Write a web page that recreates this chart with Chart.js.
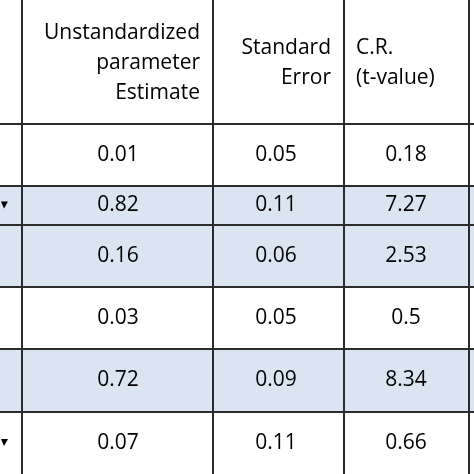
<!DOCTYPE html>
<html><head><meta charset="utf-8">
<script src="https://cdn.jsdelivr.net/npm/chart.js@4"></script>
<style>html,body{margin:0;padding:0;background:#fff}#w{width:474px;height:474px}</style>
</head><body><div id="w"><canvas id="c"></canvas></div>
<script>
const headers = [["Unstandardized","parameter","Estimate"],["Standard","Error"],["C.R.","(t-value)"]];
const estimates = [0.01,0.82,0.16,0.03,0.72,0.07];
const stdErrors = ["0.05","0.11","0.06","0.05","0.09","0.11"];
const crValues = ["0.18","7.27","2.53","0.5","8.34","0.66"];
const shaded = [false,true,true,false,true,false];
const arrows = [false,true,false,false,false,true];
// table grid layout (in scale units)
const colEdges = [22,213,344,469];
const rowEdges = [-10,124,186,225,287,349,412,484];

const tablePlugin = {
  id:'table',
  afterDraw(chart){
    const {ctx, scales:{x,y}} = chart;
    const X=v=>x.getPixelForValue(v), Y=v=>y.getPixelForValue(v);
    ctx.save();
    for(let r=0;r<6;r++){ if(!shaded[r]) continue;
      ctx.fillStyle='#dbe5f1';
      ctx.fillRect(0,Y(rowEdges[r+1]),X(474),Y(rowEdges[r+2])-Y(rowEdges[r+1]));
    }
    ctx.strokeStyle='#2b2b2b'; ctx.lineWidth=2;
    colEdges.forEach(c=>{ctx.beginPath();ctx.moveTo(X(c),0);ctx.lineTo(X(c),Y(474));ctx.stroke();});
    rowEdges.slice(1,-1).forEach(r=>{ctx.beginPath();ctx.moveTo(0,Y(r));ctx.lineTo(X(474),Y(r));ctx.stroke();});
    ctx.fillStyle='#000'; ctx.font='21px "Open Sans", sans-serif'; ctx.textBaseline='middle';
    ctx.textAlign='right';
    headers[0].forEach((t,i)=>ctx.fillText(t,X(200),Y(33+i*30)));
    headers[1].forEach((t,i)=>ctx.fillText(t,X(331),Y(48+i*30)));
    ctx.textAlign='left';
    headers[2].forEach((t,i)=>ctx.fillText(t,X(356),Y(48+i*30)));
    ctx.textAlign='center';
    const cx=[118,276,406];
    for(let r=0;r<6;r++){
      const yc=Y((rowEdges[r+1]+rowEdges[r+2])/2 + (r==5?-5:0));
      ctx.fillText(estimates[r].toFixed(2),X(cx[0]),yc);
      ctx.fillText(stdErrors[r],X(cx[1]),yc);
      ctx.fillText(crValues[r],X(cx[2]),yc);
      if(arrows[r]){ctx.beginPath();ctx.moveTo(X(1),yc-4);ctx.lineTo(X(8),yc-4);ctx.lineTo(X(4),yc+3);ctx.closePath();ctx.fill();}
    }
    ctx.restore();
  }
};
new Chart(document.getElementById('c'),{
  type:'scatter',
  data:{datasets:[{data:[]}]},
  options:{responsive:true,maintainAspectRatio:false,animation:false,
    layout:{padding:0},
    plugins:{legend:{display:false},tooltip:{enabled:false}},
    scales:{x:{type:'linear',min:0,max:474,display:false},
            y:{type:'linear',min:0,max:474,reverse:true,display:false}}},
  plugins:[tablePlugin]
});
</script></body></html>
